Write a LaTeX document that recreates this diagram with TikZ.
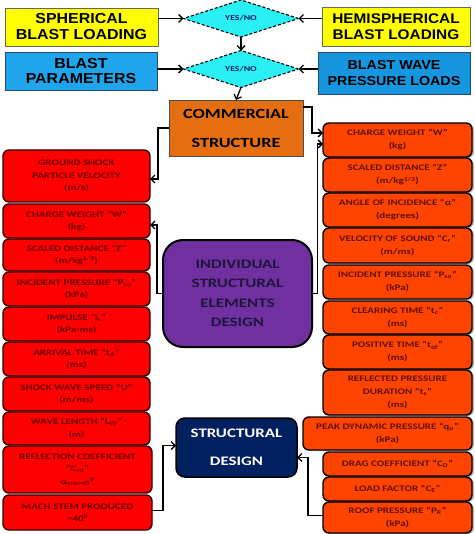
\documentclass[tikz,border=0pt]{standalone}
\usepackage{fontspec}
\setmainfont{Carlito}[FakeStretch=1.3]
\newfontfamily\arialw{Liberation Sans}[FakeStretch=1.1]
\usetikzlibrary{arrows.meta,shapes.geometric,calc,shadows}
\definecolor{yel}{RGB}{255,255,0}
\definecolor{bpblue}{RGB}{30,165,235}
\definecolor{bwblue}{RGB}{22,150,222}
\definecolor{dcyan}{RGB}{40,240,245}
\definecolor{comor}{RGB}{228,110,16}
\definecolor{lred}{RGB}{255,0,0}
\definecolor{ltext}{RGB}{105,0,0}
\definecolor{rorange}{RGB}{255,68,0}
\definecolor{rtext}{RGB}{95,15,0}
\definecolor{purp}{RGB}{112,48,160}
\definecolor{purtext}{RGB}{30,22,60}
\definecolor{navy}{RGB}{0,32,96}
\definecolor{dianavy}{RGB}{20,30,90}
\definecolor{lborder}{RGB}{50,0,0}
\definecolor{bborder}{RGB}{40,70,110}
\begin{document}
\begin{tikzpicture}[x=1pt,y=-1pt,
  box/.style={inner sep=0pt, outer sep=0pt, align=center},
  topbox/.style={box, draw=black!60, line width=0.8pt, font=\arialw\bfseries},
  dia/.style={diamond, aspect=3, draw=black, line width=1.1pt, dash pattern=on 3pt off 2pt,
    fill=dcyan, minimum width=115pt, minimum height=37pt, inner sep=0pt, outer sep=0pt,
    text=dianavy, font=\bfseries\fontsize{7.5}{9}\selectfont},
  combox/.style={box, fill=comor, draw=black!70, line width=0.8pt,
    font=\bfseries\fontsize{14}{29}\selectfont, text=black},
  lc/.style={box, rounded corners=6pt, fill=lred, draw=lborder, line width=1.4pt,
    text=ltext, font=\bfseries\fontsize{8.5}{12.5}\selectfont, minimum width=147pt},
  rc/.style={box, rounded corners=6pt, fill=rorange, draw=black, line width=1.4pt,
    text=rtext, font=\bfseries\fontsize{8.5}{13}\selectfont, minimum width=149pt,
    drop shadow={shadow xshift=2pt, shadow yshift=-1pt, fill=black!45, opacity=0.6}},
  arr/.style={draw=black, line width=1.3pt, -{Straight Barb[length=4pt,width=8pt]}}
]
\useasboundingbox (0,0) rectangle (474,534);

% top row
\node[topbox, fill=yel, minimum width=153pt, minimum height=38pt, font=\arialw\bfseries\fontsize{14.5}{16}\selectfont] (sph) at (81.5,27) {SPHERICAL\\BLAST LOADING};
\node[topbox, fill=yel, minimum width=148pt, minimum height=39pt, font=\arialw\bfseries\fontsize{14}{16}\selectfont] (hemi) at (396,26.5) {HEMISPHERICAL\\BLAST LOADING};
\node[topbox, fill=bpblue, draw=bborder, minimum width=152pt, minimum height=38pt, font=\arialw\bfseries\fontsize{14.5}{15.5}\selectfont] (bp) at (81,71) {BLAST\\PARAMETERS};
\node[topbox, fill=bwblue, draw=bborder, minimum width=152pt, minimum height=42pt, font=\arialw\bfseries\fontsize{13}{16.5}\selectfont] (bw) at (394,73) {BLAST WAVE\\PRESSURE LOADS};
\node[dia] (d1) at (241,18.5) {YES/NO};
\node[dia] (d2) at (241,69) {YES/NO};

% central nodes
\node[combox, minimum width=134pt, minimum height=56pt] (com) at (236,128) {COMMERCIAL\\STRUCTURE};
\node[box, rounded corners=20pt, fill=purp, draw=black, line width=2pt, minimum width=149pt, minimum height=107pt,
  text=purtext, font=\bfseries\fontsize{13}{19.5}\selectfont] (pur) at (237.5,293.5) {INDIVIDUAL\\STRUCTURAL\\ELEMENTS\\DESIGN};
\node[box, rounded corners=9pt, fill=navy, draw=black, line width=1.5pt, minimum width=121pt, minimum height=59pt,
  text=white, font=\bfseries\fontsize{13}{28}\selectfont] (nav) at (236.5,447.5) {STRUCTURAL\\DESIGN};

% left column
\node[lc, minimum height=52pt] (L1) at (76.5,176) {GROUND SHOCK\\PARTICLE VELOCITY\\(m/s)};
\node[lc, minimum height=34pt] (L2) at (76.5,221) {CHARGE WEIGHT “W”\\(kg)};
\node[lc, minimum height=32pt] (L3) at (76.5,255) {SCALED DISTANCE “Z”\\(m/kg\textsuperscript{1/3})};
\node[lc, minimum height=34pt] (L4) at (76.5,289) {INCIDENT PRESSURE “P\textsubscript{so}”\\(kPa)};
\node[lc, minimum height=34pt] (L5) at (76.5,324) {IMPULSE “i\textsubscript{s}”\\(kPa-ms)};
\node[lc, minimum height=34pt] (L6) at (76.5,359) {ARRIVAL TIME “t\textsubscript{A}”\\(ms)};
\node[lc, minimum height=34pt] (L7) at (76.5,394) {SHOCK WAVE SPEED “U”\\(m/ms)};
\node[lc, minimum height=33pt] (L8) at (76.5,428.5) {WAVE LENGTH “L\textsubscript{W}”\\(m)};
\node[lc, minimum height=47pt, minimum width=149pt] (L9) at (77.5,469.5) {REFLECTION COEFFICIENT\\“C\textsubscript{rα}”\\α\textsubscript{crα=40}\textsuperscript{0}};
\node[lc, minimum height=35pt, minimum width=149pt] (L10) at (77.5,512.5) {MACH STEM PRODUCED\\>40\textsuperscript{0}};

% right column
\node[rc, minimum height=34pt] (R1) at (397.5,140) {CHARGE WEIGHT “W”\\(kg)};
\node[rc, minimum height=34pt] (R2) at (397.5,175) {SCALED DISTANCE “Z”\\(m/kg\textsuperscript{1/3})};
\node[rc, minimum height=34pt] (R3) at (397.5,210) {ANGLE OF INCIDENCE “α”\\(degrees)};
\node[rc, minimum height=35pt] (R4) at (397.5,245.5) {VELOCITY OF SOUND “C\textsubscript{r}”\\(m/ms)};
\node[rc, minimum height=34pt] (R5) at (397.5,282) {INCIDENT PRESSURE “P\textsubscript{so}”\\(kPa)};
\node[rc, minimum height=33pt] (R6) at (397.5,317.5) {CLEARING TIME “t\textsubscript{c}”\\(ms)};
\node[rc, minimum height=34pt] (R7) at (397.5,352) {POSITIVE TIME “t\textsubscript{of}”\\(ms)};
\node[rc, minimum height=45pt] (R8) at (397.5,392.5) {REFLECTED PRESSURE\\DURATION “t\textsubscript{c}”\\(ms)};
\node[rc, minimum height=33pt, minimum width=169pt] (R9) at (387.5,433.5) {PEAK DYNAMIC PRESSURE “q\textsubscript{o}”\\(kPa)};
\node[rc, minimum height=24pt] (R10) at (397.5,464) {DRAG COEFFICIENT “C\textsubscript{D}”};
\node[rc, minimum height=24pt] (R11) at (397.5,489) {LOAD FACTOR “C\textsubscript{E}”};
\node[rc, minimum height=31pt] (R12) at (397.5,517.5) {ROOF PRESSURE “P\textsubscript{R}”\\(kPa)};

% connectors
\draw[arr] (sph.east |- d1.west) -- (d1.west);
\draw[arr] (hemi.west |- d1.east) -- (d1.east);
\draw[arr] (d1.south) -- (d2.north);
\draw[arr] (bp.east |- d2.west) -- (d2.west);
\draw[arr] (bw.west |- d2.east) -- (d2.east);
\draw[arr] (d2.south) -- (com.north);
\draw[arr] (com.west) -- ++(-11,0) |- ($(L1.east)+(0,3)$);
\draw[arr] ($(com.north east)+(0,7)$) -- ++(9,0) |- ($(R1.west)+(0,-7)$);
\draw[arr] (pur.east) -- ++(5.5,0) |- ($(R1.west)+(0,4)$);
\draw[arr] (pur.west) -- ++(-6,0) |- ($(L2.east)+(0,4)$);
\draw[arr] ($(L10.east)+(0,-2)$) -- ++(11,0) |- ($(nav.west)+(0,-2)$);
\draw[arr] ($(R12.west)+(0,-2)$) -- ++(-15,0) |- ($(nav.east)+(0,10)$);
\end{tikzpicture}
\end{document}
